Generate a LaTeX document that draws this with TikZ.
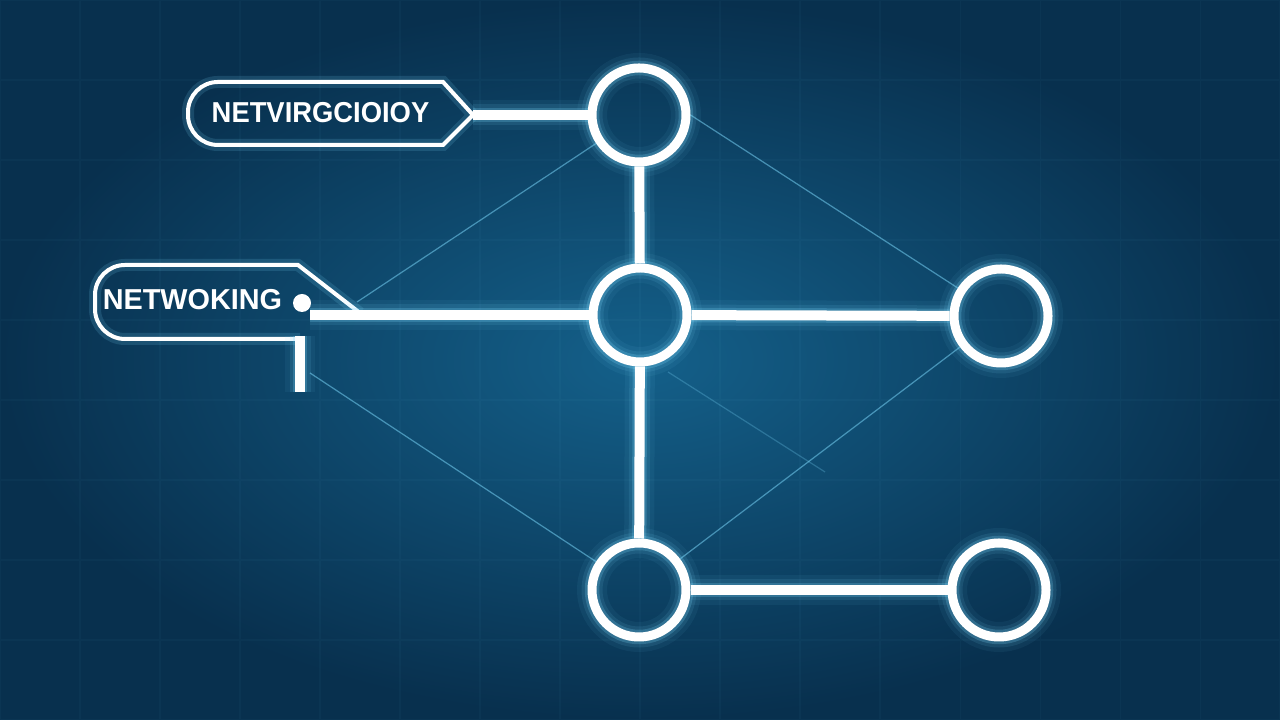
\documentclass[tikz,border=0pt]{standalone}
\usepackage{fontspec}
\setmainfont{Liberation Sans}
\definecolor{bgmid}{HTML}{14608A}
\definecolor{bgdark}{HTML}{08304E}
\definecolor{glowc}{HTML}{7FDCFF}
\tikzset{
  glow/.style={preaction={draw=glowc,line width=3.0mm,draw opacity=.06},
               preaction={draw=glowc,line width=2.1mm,draw opacity=.10},
               preaction={draw=glowc,line width=1.45mm,draw opacity=.22}},
  hub/.style={circle,draw=white,line width=0.9mm,minimum size=9.4mm,inner sep=0pt,glow},
  wire/.style={draw=white,line width=1mm,glow},
  tagline/.style={draw=white,line width=0.4mm,
                  preaction={draw=glowc,line width=1.2mm,draw opacity=.15}},
  faint/.style={draw=glowc,line width=0.35pt,draw opacity=.5},
  label/.style={text=white,inner sep=0pt,font=\fontsize{8.2}{10}\selectfont\bfseries}
}
\begin{document}
\begin{tikzpicture}
\useasboundingbox (0,0) rectangle (12.8,7.2);
\shade[inner color=bgmid,outer color=bgdark] (0,0) rectangle (12.8,7.2);
\draw[step=0.8cm,glowc,line width=0.3pt,draw opacity=.03] (0,0) grid (12.8,7.2);

% hubs
\node[hub] (a) at (6.39,6.05) {};
\node[hub] (b) at (6.40,4.05) {};
\node[hub] (c) at (10.01,4.04) {};
\node[hub] (d) at (6.39,1.30) {};
\node[hub] (e) at (9.99,1.30) {};

% labels
\node[label] (lab1) at (3.205,6.07) {\scalebox{.95}[1]{NETVIRGCIOIOY}};
\node[label] (lab2) at (1.925,4.20) {NETWOKING};
\coordinate (tip1) at (4.73,6.05);
\coordinate (tip2) at (3.10,4.05);
\coordinate (t1) at (3.57,4.18);
\coordinate (t2) at (3.10,3.47);
\coordinate (f0) at (6.68,3.48);
\coordinate (f1) at (8.25,2.48);

\draw[tagline] (tip1) -- (4.43,6.38) [rounded corners=0.3cm] -- (1.88,6.38)
  -- (1.88,5.75) [sharp corners] -- (4.43,5.75) -- cycle;
\draw[tagline] (3.60,4.07) -- (2.98,4.55) [rounded corners=0.3cm] -- (0.95,4.55)
  -- (0.95,3.81) [sharp corners] -- (3.00,3.81);

% thin links
\draw[faint] (a) -- (t1);
\draw[faint] (a.east) -- (c);
\draw[faint,draw opacity=.25] (f0) -- (f1);
\draw[faint] (d) -- (c);
\draw[faint] (t2) -- (d);

% wires
\draw[wire] (tip1) -- (a);
\draw[wire] (tip2) -- (b);
\draw[wire] (3.00,3.84) -- (3.00,3.28);
\fill[white] (3.02,4.17) circle (0.09);
\draw[wire] (a) -- (b);
\draw[wire] (b) -- (d);
\draw[wire] (b) -- (c);
\draw[wire] (d) -- (e);
\end{tikzpicture}
\end{document}
